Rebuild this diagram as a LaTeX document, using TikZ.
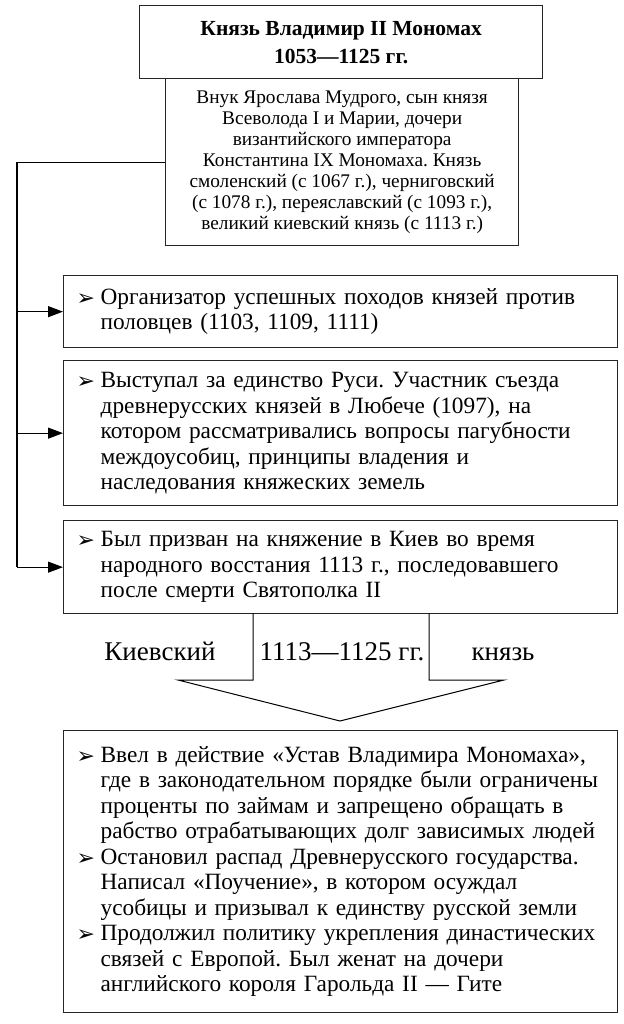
\documentclass[tikz,border=0pt]{standalone}
\usepackage{fontspec}
\setmainfont{Liberation Serif}
\newfontfamily\symfont{DejaVu Sans}
\usetikzlibrary{arrows.meta}
\newcommand{\bul}{\makebox[23pt][l]{\hspace*{-1pt}\raisebox{-1pt}{\symfont\fontsize{22pt}{22pt}\selectfont ➢}}}
\newcommand{\ind}{\hspace*{23pt}}
\frenchspacing
\begin{document}
\begin{tikzpicture}[x=1pt,y=-1pt,
  frame/.style={draw=black!85, line width=1.3pt},
  box/.style={frame, anchor=north west, minimum width=554pt, text width=526pt,
    inner xsep=14pt, inner ysep=0pt, align=left,
    font=\fontsize{23.3pt}{25.5pt}\selectfont},
  conn/.style={draw=black, line width=1.1pt},
  arr/.style={conn, -{Triangle[length=15pt,width=11pt]}},
  lab/.style={font=\fontsize{27pt}{28pt}\selectfont, inner sep=0pt, anchor=base}]
\useasboundingbox (0,0) rectangle (623,1024);
\fill[white] (0,0) rectangle (623,1024);

\node[frame, anchor=north west, minimum width=353pt, minimum height=167pt,
  align=center, font=\fontsize{19.3pt}{21pt}\selectfont] (desc) at (165,78)
  {Внук Ярослава Мудрого, сын князя\\
   Всеволода I и Марии, дочери\\
   византийского императора\\
   Константина IX Мономаха. Князь\\
   смоленский (с 1067 г.), черниговский\\
   (с 1078 г.), переяславский (с 1093 г.),\\
   великий киевский князь (с 1113 г.)};

\node[frame, fill=white, anchor=north west, minimum width=403pt, minimum height=73pt,
  align=center, font=\bfseries\fontsize{21.5pt}{28pt}\selectfont] (title) at (139,5)
  {Князь Владимир II Мономах\\1053—1125 гг.};

\node[box, minimum height=72pt] (b1) at (63,275)
  {\bul\mbox{Организатор успешных походов князей против}\\
   \ind\mbox{половцев (1103, 1109, 1111)}};

\node[box, minimum height=145pt] (b2) at (63,360)
  {\bul\mbox{Выступал за единство Руси. Участник съезда}\\
   \ind\mbox{древнерусских князей в Любече (1097), на}\\
   \ind\mbox{котором рассматривались вопросы пагубности}\\
   \ind\mbox{междоусобиц, принципы владения и}\\
   \ind\mbox{наследования княжеских земель}};

\node[box, minimum height=93pt] (b3) at (63,520)
  {\bul\mbox{Был призван на княжение в Киев во время}\\
   \ind\mbox{народного восстания 1113 г., последовавшего}\\
   \ind\mbox{после смерти Святополка II}};

\node[box, minimum height=282pt] (b4) at (63,730)
  {\bul\mbox{Ввел в действие «Устав Владимира Мономаха»,}\\
   \ind\mbox{где в законодательном порядке были ограничены}\\
   \ind\mbox{проценты по займам и запрещено обращать в}\\
   \ind\mbox{рабство отрабатывающих долг зависимых людей}\\
   \bul\mbox{Остановил распад Древнерусского государства.}\\
   \ind\mbox{Написал «Поучение», в котором осуждал}\\
   \ind\mbox{усобицы и призывал к единству русской земли}\\
   \bul\mbox{Продолжил политику укрепления династических}\\
   \ind\mbox{связей с Европой. Был женат на дочери}\\
   \ind\mbox{английского короля Гарольда II — Гите}};

\coordinate (rail) at (17,0);
\draw[conn] (desc.west) -| (rail |- b3.west);
\draw[arr] (rail |- b1.west) -- (b1.west);
\draw[arr] (rail |- b2.west) -- (b2.west);
\draw[arr] (rail |- b3.west) -- (b3.west);

\coordinate (sl) at (253,613);
\coordinate (sr) at (429,613);
\coordinate (tip) at (340,721);
\draw[conn, line width=1pt] (sl) -- (253,680) -- (178,680) -- (tip) -- (504,680) -- (429,680) -- (sr);

\node[lab] (l1) at (160,660) {Киевский};
\node[lab] (l2) at (342,660) {1113—1125 гг.};
\node[lab] (l3) at (503,660) {князь};
\end{tikzpicture}
\end{document}
